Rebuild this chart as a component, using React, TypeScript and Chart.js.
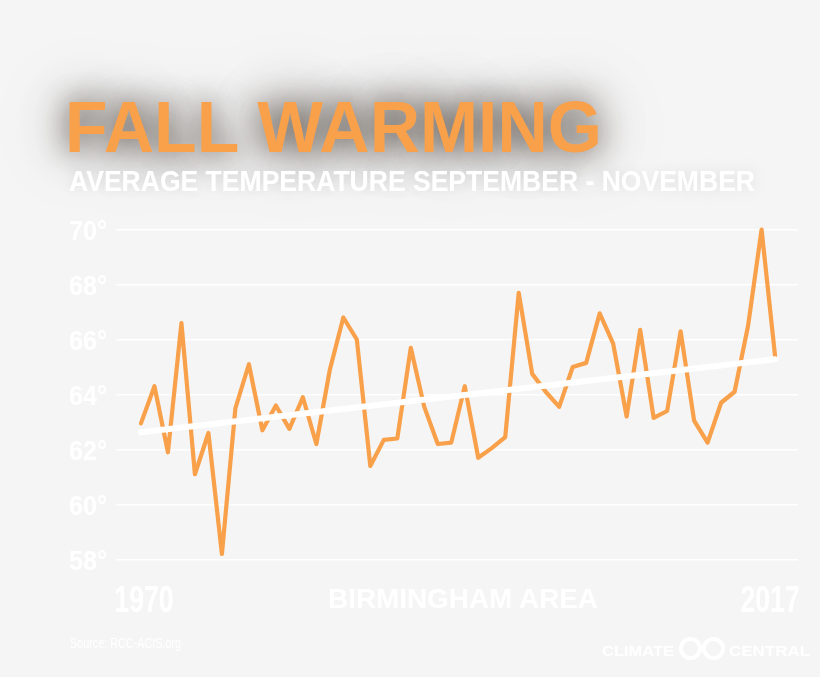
import React, { useEffect, useLayoutEffect, useRef } from "react";
import { Chart, registerables } from "chart.js";

Chart.register(...registerables);

const years: number[] = [
  1970, 1971, 1972, 1973, 1974, 1975, 1976, 1977, 1978, 1979,
  1980, 1981, 1982, 1983, 1984, 1985, 1986, 1987, 1988, 1989,
  1990, 1991, 1992, 1993, 1994, 1995, 1996, 1997, 1998, 1999,
  2000, 2001, 2002, 2003, 2004, 2005, 2006, 2007, 2008, 2009,
  2010, 2011, 2012, 2013, 2014, 2015, 2016, 2017,
];

const fallTemps: number[] = [
  62.95, 64.3, 61.9, 66.6, 61.1, 62.6, 58.2, 63.5, 65.1, 62.7,
  63.6, 62.75, 63.9, 62.2, 64.9, 66.8, 66.0, 61.4, 62.35, 62.4,
  65.7, 63.55, 62.2, 62.25, 64.3, 61.7, 62.05, 62.45, 67.7, 64.75,
  64.1, 63.55, 65.0, 65.15, 66.95, 65.85, 63.2, 66.35, 63.15, 63.4,
  66.3, 63.05, 62.25, 63.7, 64.1, 66.5, 70.0, 65.4,
];

const trendYears: number[] = [1970, 2017];
const trendTemps: number[] = [62.63, 65.28];

const yTicks: number[] = [58, 60, 62, 64, 66, 68, 70];
const xTickYears: number[] = [1970, 2017];

const TITLE = "FALL WARMING";
const SUBTITLE = "AVERAGE TEMPERATURE SEPTEMBER - NOVEMBER";
const AREA = "BIRMINGHAM AREA";
const SOURCE = "Source: RCC-ACIS.org";

const ORANGE = "#F9A04B";
const BG = "#f5f5f5";
const SANS = "'Liberation Sans', Arial, sans-serif";

function drawCondensed(ctx: CanvasRenderingContext2D, text: string, x: number, y: number, sx: number) {
  ctx.save();
  ctx.translate(x, y);
  ctx.scale(sx, 1);
  ctx.fillText(text, 0, 0);
  ctx.restore();
}

const condensedTicks = {
  id: "condensedTicks",
  afterDraw(chart: any) {
    const ctx: CanvasRenderingContext2D = chart.ctx;
    const xs = chart.scales.x;
    const ys = chart.scales.y;
    const area = chart.chartArea;
    ctx.save();
    ctx.fillStyle = "#ffffff";
    ctx.textBaseline = "alphabetic";
    ctx.font = `bold 37px ${SANS}`;
    ctx.textAlign = "center";
    xs.ticks.forEach((t: any, i: number) => {
      const nudge = i === 0 ? 3 : -5;
      drawCondensed(ctx, String(t.value), xs.getPixelForValue(t.value) + nudge, area.bottom + 52, 0.72);
    });
    ctx.font = `bold 28px ${SANS}`;
    ctx.textAlign = "right";
    ys.ticks.forEach((t: any) => {
      drawCondensed(ctx, `${t.value}°`, area.left - 9, ys.getPixelForValue(t.value) + 10, 0.9);
    });
    ctx.restore();
  },
};

function FitText(props: { text: string; left: number; top: number; width: number; style: React.CSSProperties }) {
  const ref = useRef<HTMLSpanElement>(null);
  useLayoutEffect(() => {
    const el = ref.current;
    if (!el) return;
    el.style.transform = "none";
    const w = el.getBoundingClientRect().width;
    if (w > 0) el.style.transform = `scaleX(${props.width / w})`;
  }, [props.text, props.width]);
  return (
    <span
      ref={ref}
      style={{
        position: "absolute",
        left: props.left,
        top: props.top,
        whiteSpace: "nowrap",
        display: "inline-block",
        transformOrigin: "0 0",
        lineHeight: 1,
        ...props.style,
      }}
    >
      {props.text}
    </span>
  );
}

export default function App() {
  const canvasRef = useRef<HTMLCanvasElement>(null);

  useEffect(() => {
    const canvas = canvasRef.current;
    if (!canvas) return;
    const chart = new Chart(canvas, {
      type: "line",
      data: {
        datasets: [
          {
            label: "Trend",
            data: trendYears.map((y, i) => ({ x: y, y: trendTemps[i] })),
            borderColor: "#ffffff",
            borderWidth: 6,
            borderCapStyle: "round",
            pointRadius: 0,
            fill: false,
            order: 0,
            clip: false as any,
          },
          {
            label: "Fall average temperature",
            data: years.map((y, i) => ({ x: y, y: fallTemps[i] })),
            borderColor: ORANGE,
            borderWidth: 4.2,
            borderJoinStyle: "round",
            borderCapStyle: "round",
            pointRadius: 0,
            tension: 0,
            fill: false,
            order: 1,
            clip: false as any,
          },
        ],
      },
      plugins: [condensedTicks],
      options: {
        responsive: false,
        animation: false,
        events: [],
        layout: { padding: { top: 229.5, right: 22, bottom: 0, left: 0 } },
        plugins: {
          legend: { display: false },
          tooltip: { enabled: false },
          title: { display: false },
        },
        scales: {
          x: {
            type: "linear",
            min: 1968.15,
            max: 2018.7,
            afterBuildTicks: (scale: any) => {
              scale.ticks = xTickYears.map((v) => ({ value: v }));
            },
            afterFit: (scale: any) => {
              scale.height = 117.5;
            },
            grid: { display: false, drawTicks: false },
            border: { display: false },
            ticks: { display: false },
          },
          y: {
            min: 58,
            max: 70,
            afterBuildTicks: (scale: any) => {
              scale.ticks = yTicks.map((v) => ({ value: v }));
            },
            afterFit: (scale: any) => {
              scale.width = 116;
            },
            grid: { color: "#ffffff", lineWidth: 1.5, drawTicks: false },
            border: { display: false },
            ticks: { display: false },
          },
        },
      },
    });
    return () => chart.destroy();
  }, []);

  const ring: React.CSSProperties = {
    position: "absolute",
    top: 637,
    width: 15,
    height: 15,
    borderRadius: "50%",
    border: "4.5px solid #ffffff",
  };

  return (
    <div
      style={{
        position: "absolute",
        left: 0,
        top: 0,
        width: 820,
        height: 677,
        background: BG,
        overflow: "hidden",
        fontFamily: SANS,
      }}
    >
      <canvas ref={canvasRef} width={820} height={677} style={{ position: "absolute", left: 0, top: 0, width: 820, height: 677 }} />
      <FitText
        text={TITLE}
        left={65}
        top={90.5}
        width={537}
        style={{
          fontSize: 72,
          fontWeight: 700,
          color: ORANGE,
          textShadow: "0 0 28px rgba(60,50,40,0.75), 0 0 55px rgba(60,50,40,0.55), 0 0 80px rgba(60,50,40,0.25)",
        }}
      />
      <FitText
        text={SUBTITLE}
        left={69}
        top={165.5}
        width={686}
        style={{
          fontSize: 30,
          fontWeight: 700,
          color: "#ffffff",
          textShadow: "0 0 18px rgba(0,0,0,0.12)",
        }}
      />
      <FitText
        text={AREA}
        left={328}
        top={586}
        width={270}
        style={{ fontSize: 27, fontWeight: 700, color: "#ffffff" }}
      />
      <FitText
        text={SOURCE}
        left={70}
        top={636}
        width={111}
        style={{ fontSize: 14, color: "#ffffff" }}
      />
      <FitText
        text="CLIMATE"
        left={602}
        top={643}
        width={72}
        style={{ fontSize: 15, fontWeight: 700, color: "#ffffff" }}
      />
      <div style={{ ...ring, left: 679 }} />
      <div style={{ ...ring, left: 702 }} />
      <FitText
        text="CENTRAL"
        left={729}
        top={643}
        width={81}
        style={{ fontSize: 15, fontWeight: 700, color: "#ffffff" }}
      />
    </div>
  );
}
